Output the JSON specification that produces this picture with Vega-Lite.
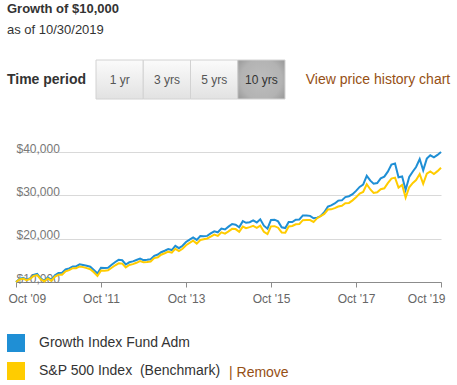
{
  "$schema": "https://vega.github.io/schema/vega-lite/v6.json",
  "padding": {"left": 6, "top": 2, "right": 0, "bottom": 0},
  "autosize": {"type": "pad"},
  "background": "white",
  "config": {"view": {"stroke": null}, "font": "Liberation Sans"},
  "title": {
    "text": "Growth of $10,000",
    "subtitle": "as of 10/30/2019",
    "anchor": "start",
    "fontSize": 13,
    "fontWeight": "bold",
    "color": "#333333",
    "subtitleFontSize": 13,
    "subtitleColor": "#333333",
    "subtitlePadding": 8,
    "offset": 23
  },
  "spacing": 42,
  "vconcat": [
    {
      "spacing": 8,
      "hconcat": [
        {
          "width": 61,
          "height": 39,
          "data": {"values": [{"t": "Time period"}]},
          "mark": {"type": "text", "fontSize": 14, "fontWeight": "bold", "color": "#333333", "baseline": "middle"},
          "encoding": {"text": {"field": "t"}}
        },
        {
          "width": 189,
          "height": 39,
          "data": {"values": [{"p": "1 yr"}, {"p": "3 yrs"}, {"p": "5 yrs"}, {"p": "10 yrs"}]},
          "encoding": {
            "x": {"field": "p", "type": "nominal", "sort": null, "axis": null, "scale": {"paddingInner": 0, "paddingOuter": 0}}
          },
          "layer": [
            {
              "mark": {"type": "rect", "stroke": "#d2d2d2", "strokeWidth": 1},
              "encoding": {
                "fill": {
                  "condition": {
                    "test": "datum.p === '10 yrs'",
                    "value": {"gradient": "radial", "x1": 0.5, "y1": 0.5, "r1": 0, "x2": 0.5, "y2": 0.5, "r2": 0.72,
                      "stops": [{"offset": 0, "color": "#bdbdbd"}, {"offset": 0.6, "color": "#b3b3b3"}, {"offset": 1, "color": "#8e8e8e"}]}
                  },
                  "value": {"gradient": "linear", "x1": 0, "y1": 0, "x2": 0, "y2": 1,
                    "stops": [{"offset": 0, "color": "#fbfbfb"}, {"offset": 1, "color": "#e2e2e2"}]}
                }
              }
            },
            {
              "mark": {"type": "text", "fontSize": 12, "baseline": "middle"},
              "encoding": {
                "text": {"field": "p"},
                "color": {"condition": {"test": "datum.p === '10 yrs'", "value": "#333333"}, "value": "#555555"}
              }
            }
          ]
        },
        {
          "width": 168,
          "height": 39,
          "data": {"values": [{"t": "View price history chart"}]},
          "mark": {"type": "text", "fontSize": 14, "color": "#965014", "baseline": "middle"},
          "encoding": {"text": {"field": "t"}}
        }
      ]
    },
    {
      "width": 425,
      "height": 130,
      "data": {"values": [
        {"d":"2009/10/01","g":10000,"s":10000},
        {"d":"2009/11/01","g":10700,"s":10590},
        {"d":"2009/12/01","g":10960,"s":10800},
        {"d":"2010/01/01","g":10520,"s":10420},
        {"d":"2010/02/01","g":10900,"s":10740},
        {"d":"2010/03/01","g":11620,"s":11390},
        {"d":"2010/04/01","g":11870,"s":11580},
        {"d":"2010/05/01","g":10860,"s":10650},
        {"d":"2010/06/01","g":10290,"s":10090},
        {"d":"2010/07/01","g":11020,"s":10800},
        {"d":"2010/08/01","g":10570,"s":10310},
        {"d":"2010/09/01","g":11570,"s":11230},
        {"d":"2010/10/01","g":12080,"s":11670},
        {"d":"2010/11/01","g":12130,"s":11660},
        {"d":"2010/12/01","g":12890,"s":12450},
        {"d":"2011/01/01","g":13130,"s":12750},
        {"d":"2011/02/01","g":13580,"s":13180},
        {"d":"2011/03/01","g":13590,"s":13190},
        {"d":"2011/04/01","g":14070,"s":13590},
        {"d":"2011/05/01","g":13900,"s":13430},
        {"d":"2011/06/01","g":13740,"s":13210},
        {"d":"2011/07/01","g":13530,"s":12950},
        {"d":"2011/08/01","g":12790,"s":12240},
        {"d":"2011/09/01","g":11950,"s":11380},
        {"d":"2011/10/01","g":13260,"s":12630},
        {"d":"2011/11/01","g":13220,"s":12590},
        {"d":"2011/12/01","g":13290,"s":12720},
        {"d":"2012/01/01","g":13970,"s":13300},
        {"d":"2012/02/01","g":14620,"s":13860},
        {"d":"2012/03/01","g":15110,"s":14320},
        {"d":"2012/04/01","g":15020,"s":14240},
        {"d":"2012/05/01","g":14040,"s":13370},
        {"d":"2012/06/01","g":14550,"s":13920},
        {"d":"2012/07/01","g":14760,"s":14120},
        {"d":"2012/08/01","g":15080,"s":14430},
        {"d":"2012/09/01","g":15400,"s":14810},
        {"d":"2012/10/01","g":15050,"s":14540},
        {"d":"2012/11/01","g":15120,"s":14610},
        {"d":"2012/12/01","g":15260,"s":14740},
        {"d":"2013/01/01","g":16050,"s":15510},
        {"d":"2013/02/01","g":16340,"s":15710},
        {"d":"2013/03/01","g":16870,"s":16300},
        {"d":"2013/04/01","g":17210,"s":16630},
        {"d":"2013/05/01","g":17600,"s":17000},
        {"d":"2013/06/01","g":17370,"s":16780},
        {"d":"2013/07/01","g":18350,"s":17640},
        {"d":"2013/08/01","g":17800,"s":17120},
        {"d":"2013/09/01","g":18370,"s":17660},
        {"d":"2013/10/01","g":19220,"s":18480},
        {"d":"2013/11/01","g":19790,"s":19030},
        {"d":"2013/12/01","g":20300,"s":19520},
        {"d":"2014/01/01","g":19710,"s":18860},
        {"d":"2014/02/01","g":20590,"s":19700},
        {"d":"2014/03/01","g":20580,"s":19880},
        {"d":"2014/04/01","g":20640,"s":20040},
        {"d":"2014/05/01","g":21210,"s":20490},
        {"d":"2014/06/01","g":21690,"s":20920},
        {"d":"2014/07/01","g":21470,"s":20640},
        {"d":"2014/08/01","g":22320,"s":21460},
        {"d":"2014/09/01","g":22110,"s":21160},
        {"d":"2014/10/01","g":22770,"s":21690},
        {"d":"2014/11/01","g":23380,"s":22270},
        {"d":"2014/12/01","g":23210,"s":22210},
        {"d":"2015/01/01","g":22640,"s":21560},
        {"d":"2015/02/01","g":24040,"s":22790},
        {"d":"2015/03/01","g":23660,"s":22430},
        {"d":"2015/04/01","g":23790,"s":22660},
        {"d":"2015/05/01","g":24200,"s":22940},
        {"d":"2015/06/01","g":23740,"s":22500},
        {"d":"2015/07/01","g":24480,"s":22990},
        {"d":"2015/08/01","g":22990,"s":21590},
        {"d":"2015/09/01","g":22310,"s":21050},
        {"d":"2015/10/01","g":24320,"s":22840},
        {"d":"2015/11/01","g":24380,"s":22890},
        {"d":"2015/12/01","g":23990,"s":22530},
        {"d":"2016/01/01","g":22610,"s":21430},
        {"d":"2016/02/01","g":22450,"s":21380},
        {"d":"2016/03/01","g":23860,"s":22830},
        {"d":"2016/04/01","g":23850,"s":22930},
        {"d":"2016/05/01","g":24380,"s":23330},
        {"d":"2016/06/01","g":24440,"s":23390},
        {"d":"2016/07/01","g":25360,"s":24270},
        {"d":"2016/08/01","g":25370,"s":24280},
        {"d":"2016/09/01","g":25260,"s":24290},
        {"d":"2016/10/01","g":24710,"s":23870},
        {"d":"2016/11/01","g":24850,"s":24730},
        {"d":"2016/12/01","g":25220,"s":25220},
        {"d":"2017/01/01","g":26110,"s":25720},
        {"d":"2017/02/01","g":27390,"s":26720},
        {"d":"2017/03/01","g":27700,"s":26760},
        {"d":"2017/04/01","g":28130,"s":27050},
        {"d":"2017/05/01","g":28780,"s":27410},
        {"d":"2017/06/01","g":28840,"s":27600},
        {"d":"2017/07/01","g":29590,"s":28180},
        {"d":"2017/08/01","g":29800,"s":28250},
        {"d":"2017/09/01","g":30280,"s":28840},
        {"d":"2017/10/01","g":31020,"s":29540},
        {"d":"2017/11/01","g":31940,"s":30420},
        {"d":"2017/12/01","g":32460,"s":30770},
        {"d":"2018/01/01","g":34510,"s":32560},
        {"d":"2018/02/01","g":33390,"s":31350},
        {"d":"2018/03/01","g":32700,"s":30560},
        {"d":"2018/04/01","g":32850,"s":30700},
        {"d":"2018/05/01","g":33930,"s":31420},
        {"d":"2018/06/01","g":34320,"s":31630},
        {"d":"2018/07/01","g":35460,"s":32830},
        {"d":"2018/08/01","g":37100,"s":33880},
        {"d":"2018/09/01","g":37330,"s":34090},
        {"d":"2018/10/01","g":34160,"s":31780},
        {"d":"2018/11/01","g":34340,"s":32400},
        {"d":"2018/12/01","g":31250,"s":29480},
        {"d":"2019/01/01","g":34250,"s":31860},
        {"d":"2019/02/01","g":35500,"s":32870},
        {"d":"2019/03/01","g":36540,"s":33520},
        {"d":"2019/04/01","g":38390,"s":34900},
        {"d":"2019/05/01","g":35760,"s":32660},
        {"d":"2019/06/01","g":38480,"s":34980},
        {"d":"2019/07/01","g":39230,"s":35500},
        {"d":"2019/08/01","g":38760,"s":34920},
        {"d":"2019/09/01","g":39320,"s":35580},
        {"d":"2019/10/01","g":40010,"s":36370}
      ]},
      "transform": [{"fold": ["g", "s"], "as": ["series", "value"]}],
      "mark": {"type": "line", "strokeWidth": 2, "interpolate": "linear"},
      "encoding": {
        "x": {
          "field": "d", "type": "temporal", "title": null,
          "axis": {
            "values": [
              {"year": 2009, "month": 10, "date": 1},
              {"year": 2011, "month": 10, "date": 1},
              {"year": 2013, "month": 10, "date": 1},
              {"year": 2015, "month": 10, "date": 1},
              {"year": 2017, "month": 10, "date": 1},
              {"year": 2019, "month": 10, "date": 1}
            ],
            "format": "%b '%y",
            "grid": false,
            "domainColor": "#8c8c8c",
            "tickColor": "#8c8c8c",
            "tickSize": 5,
            "labelFontSize": 12,
            "labelColor": "#666666",
            "labelPadding": 6,
            "labelFlush": true,
            "labelOffset": {"condition": [{"test": "datum.index === 0", "value": -8}, {"test": "datum.index === 1", "value": 4}], "value": 0}
          }
        },
        "y": {
          "field": "value", "type": "quantitative", "title": null,
          "scale": {"domain": [10000, 40000], "nice": false, "zero": false},
          "axis": {
            "values": [10000, 20000, 30000, 40000],
            "format": "$,d",
            "grid": true,
            "gridColor": "#d9d9d9",
            "domain": false,
            "ticks": false,
            "tickSize": 0,
            "labelPadding": 0,
            "labelAlign": "left",
            "labelBaseline": "alphabetic",
            "labelDy": -4,
            "labelFontSize": 12,
            "labelColor": "#777777"
          }
        },
        "color": {
          "field": "series", "type": "nominal",
          "scale": {"domain": ["g", "s"], "range": ["#1f8fd5", "#ffcc00"]},
          "legend": {
            "title": "| Remove",
            "titleOrient": "right",
            "titleAnchor": "end",
            "titleBaseline": "bottom",
            "titleColor": "#965014",
            "titleFontSize": 14,
            "titleFontWeight": "normal",
            "titlePadding": 9,
            "orient": "none",
            "legendX": -9,
            "legendY": 274,
            "direction": "vertical",
            "symbolType": "square",
            "symbolSize": 324,
            "symbolStrokeWidth": 0,
            "labelFontSize": 14,
            "labelColor": "#333333",
            "labelOffset": 14,
            "labelLimit": 0,
            "rowPadding": 10,
            "labelExpr": "datum.value === 'g' ? 'Growth Index Fund Adm' : 'S&P 500 Index\u00a0\u00a0(Benchmark)'",
            "encode": {"symbols": {"update": {"fill": {"scale": "color", "field": "value"}, "strokeWidth": {"value": 0}}}}
          }
        }
      }
    }
  ]
}
